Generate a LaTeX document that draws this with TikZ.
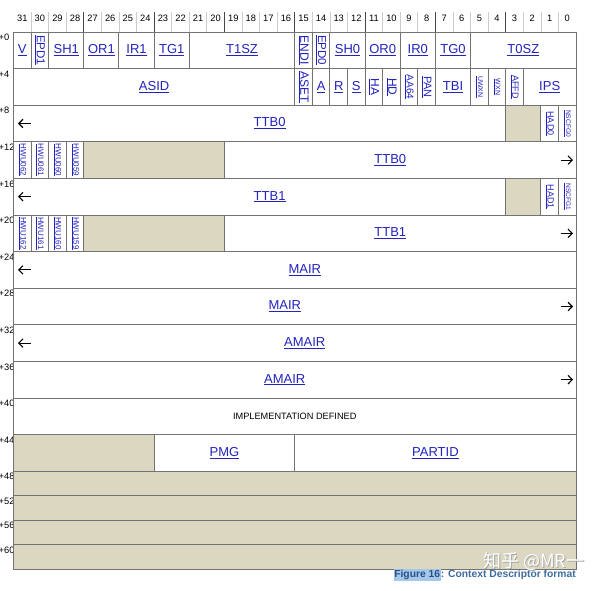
\documentclass[tikz,border=0pt]{standalone}
\usepackage{fontspec}
\usetikzlibrary{arrows.meta}
\setmainfont{Liberation Sans}
\newfontfamily\cjkfont{Noto Sans CJK SC}
\definecolor{linkc}{RGB}{35,35,190}
\definecolor{shadec}{RGB}{219,215,193}
\definecolor{gridc}{RGB}{115,115,115}
\definecolor{sepl}{RGB}{205,205,205}
\definecolor{sepd}{RGB}{70,70,70}
\definecolor{capc}{RGB}{62,108,160}
\definecolor{capd}{RGB}{40,80,140}
\definecolor{caphl}{RGB}{165,200,232}
\setlength{\fboxsep}{0.8pt}
\newcommand\fs[1]{\fontsize{#1}{#1}\selectfont}
\newcommand\lk[1]{\underline{#1}}
\newcommand\fld[7]{%
  \pgfmathsetmacro\fXa{13.5+(31-#2)*17.58}%
  \pgfmathsetmacro\fXb{13.5+(32-#3)*17.58}%
  \pgfmathsetmacro\fYm{(#4+#5)/2}%
  \draw[cellb] (\fXa,#4) rectangle (\fXb,#5);%
  \node[#6] (#1) at ({(\fXa+\fXb)/2},\fYm) {#7};}
\newcommand\shd[4]{%
  \pgfmathsetmacro\fXa{13.5+(31-#1)*17.58}%
  \pgfmathsetmacro\fXb{13.5+(32-#2)*17.58}%
  \draw[shadecell] (\fXa,#3) rectangle (\fXb,#4);}
% left / right continuation arrows
\newcommand\arrL[2]{%
  \coordinate (#1s) at (30.5,#2);\coordinate (#1e) at (18,#2);%
  \draw[arrline] (#1s) -- (#1e);}
\newcommand\arrR[2]{%
  \coordinate (#1s) at (560.5,#2);\coordinate (#1e) at (573,#2);%
  \draw[arrline] (#1s) -- (#1e);}
\tikzset{
  cellb/.style={draw=gridc, line width=1pt},
  shadecell/.style={fill=shadec, draw=gridc, line width=1pt},
  lab/.style={text=linkc, inner sep=0, font=\fs{13}},
  vlab/.style={text=linkc, inner sep=0, rotate=-90, font=\fs{#1}},
  arrline/.style={draw=black, line width=1.1pt, -{Straight Barb[length=4.2pt,width=8.5pt,line width=1.1pt]}},
  bitnum/.style={inner sep=0, font=\fs{9.3}, text=black},
  rowlab/.style={inner sep=0, font=\fs{9.3}, text=black, anchor=west},
}
\begin{document}
\begin{tikzpicture}[x=1pt,y=-1pt]
\useasboundingbox (0,0) rectangle (600,590);
\fill[white] (0,0) rectangle (600,590);
% header bit numbers
\foreach \b in {0,...,31} {
  \node[bitnum] (bit\b) at ({13.5+(31.5-\b)*17.58},18.5) {\b};
}
\foreach \k in {1,...,31} {
  \pgfmathsetmacro\kk{mod(\k,4)}
  \ifdim\kk pt=0pt
    \draw[sepd, line width=0.8pt] ({13.5+\k*17.58},12) -- ({13.5+\k*17.58},32);
  \else
    \draw[sepl, line width=0.8pt] ({13.5+\k*17.58},12) -- ({13.5+\k*17.58},32);
  \fi
}
% row offset labels
\foreach \o/\t in {0/32,4/68.6,8/105.2,12/141.8,16/178.4,20/215,24/251.6,28/288.2,32/324.8,36/361.4,40/398,44/434.6,48/471.2,52/495.65,56/520.1,60/544.55} {
  \node[rowlab] (off\o) at (-1.5,\t+5.5) {+\o};
}
% +0
\fld{V}{31}{31}{32}{68.6}{lab}{\lk{V}}
\fld{EPDone}{30}{30}{32}{68.6}{vlab=11.5}{\lk{EPD1}}
\fld{SHone}{29}{28}{32}{68.6}{lab}{\lk{SH1}}
\fld{ORone}{27}{26}{32}{68.6}{lab}{\lk{OR1}}
\fld{IRone}{25}{24}{32}{68.6}{lab}{\lk{IR1}}
\fld{TGone}{23}{22}{32}{68.6}{lab}{\lk{TG1}}
\fld{TSZone}{21}{16}{32}{68.6}{lab}{\lk{T1SZ}}
\fld{ENDI}{15}{15}{32}{68.6}{vlab=12}{\lk{ENDI}}
\fld{EPDzero}{14}{14}{32}{68.6}{vlab=11.5}{\lk{EPD0}}
\fld{SHzero}{13}{12}{32}{68.6}{lab}{\lk{SH0}}
\fld{ORzero}{11}{10}{32}{68.6}{lab}{\lk{OR0}}
\fld{IRzero}{9}{8}{32}{68.6}{lab}{\lk{IR0}}
\fld{TGzero}{7}{6}{32}{68.6}{lab}{\lk{TG0}}
\fld{TSZzero}{5}{0}{32}{68.6}{lab}{\lk{T0SZ}}
% +4
\fld{ASID}{31}{16}{68.6}{105.2}{lab}{\lk{ASID}}
\fld{ASET}{15}{15}{68.6}{105.2}{vlab=12}{\lk{ASET}}
\fld{A}{14}{14}{68.6}{105.2}{lab}{\lk{A}}
\fld{R}{13}{13}{68.6}{105.2}{lab}{\lk{R}}
\fld{S}{12}{12}{68.6}{105.2}{lab}{\lk{S}}
\fld{HA}{11}{11}{68.6}{105.2}{vlab=12}{\lk{HA}}
\fld{HD}{10}{10}{68.6}{105.2}{vlab=12}{\lk{HD}}
\fld{AAsixfour}{9}{9}{68.6}{105.2}{vlab=10}{\lk{AA64}}
\fld{PAN}{8}{8}{68.6}{105.2}{vlab=11}{\lk{PAN}}
\fld{TBI}{7}{6}{68.6}{105.2}{lab}{\lk{TBI}}
\fld{UWXN}{5}{5}{68.6}{105.2}{vlab=7}{\lk{UWXN}}
\fld{WXN}{4}{4}{68.6}{105.2}{vlab=7}{\lk{WXN}}
\fld{AFFD}{3}{3}{68.6}{105.2}{vlab=9}{\lk{AFFD}}
\fld{IPS}{2}{0}{68.6}{105.2}{lab}{\lk{IPS}}
% +8
\fld{TTBzeroLo}{31}{4}{105.2}{141.8}{lab,xshift=10pt}{\lk{TTB0}}
\shd{3}{2}{105.2}{141.8}
\fld{HADzero}{1}{1}{105.2}{141.8}{vlab=9}{\lk{HAD0}}
\fld{NSCFGzero}{0}{0}{105.2}{141.8}{vlab=6.6}{\lk{NSCFG0}}
\arrL{arrA}{123.5}
% +12
\fld{HWUzsixtwo}{31}{31}{141.8}{178.4}{vlab=8}{\lk{HWU062}}
\fld{HWUzsixone}{30}{30}{141.8}{178.4}{vlab=8}{\lk{HWU061}}
\fld{HWUzsixzero}{29}{29}{141.8}{178.4}{vlab=8}{\lk{HWU060}}
\fld{HWUzfivenine}{28}{28}{141.8}{178.4}{vlab=8}{\lk{HWU059}}
\shd{27}{20}{141.8}{178.4}
\fld{TTBzeroHi}{19}{0}{141.8}{178.4}{lab,xshift=-10pt}{\lk{TTB0}}
\arrR{arrB}{160.1}
% +16
\fld{TTBoneLo}{31}{4}{178.4}{215}{lab,xshift=10pt}{\lk{TTB1}}
\shd{3}{2}{178.4}{215}
\fld{HADone}{1}{1}{178.4}{215}{vlab=9}{\lk{HAD1}}
\fld{NSCFGone}{0}{0}{178.4}{215}{vlab=6.6}{\lk{NSCFG1}}
\arrL{arrC}{196.7}
% +20
\fld{HWUosixtwo}{31}{31}{215}{251.6}{vlab=8}{\lk{HWU162}}
\fld{HWUosixone}{30}{30}{215}{251.6}{vlab=8}{\lk{HWU161}}
\fld{HWUosixzero}{29}{29}{215}{251.6}{vlab=8}{\lk{HWU160}}
\fld{HWUofivenine}{28}{28}{215}{251.6}{vlab=8}{\lk{HWU159}}
\shd{27}{20}{215}{251.6}
\fld{TTBoneHi}{19}{0}{215}{251.6}{lab,xshift=-10pt}{\lk{TTB1}}
\arrR{arrD}{233.3}
% +24 .. +36
\fld{MAIRlo}{31}{0}{251.6}{288.2}{lab,xshift=10pt}{\lk{MAIR}}
\arrL{arrE}{269.9}
\fld{MAIRhi}{31}{0}{288.2}{324.8}{lab,xshift=-10pt}{\lk{MAIR}}
\arrR{arrF}{306.5}
\fld{AMAIRlo}{31}{0}{324.8}{361.4}{lab,xshift=10pt}{\lk{AMAIR}}
\arrL{arrG}{343.1}
\fld{AMAIRhi}{31}{0}{361.4}{398}{lab,xshift=-10pt}{\lk{AMAIR}}
\arrR{arrH}{379.7}
% +40
\fld{IMPDEF}{31}{0}{398}{434.6}{inner sep=0,font=\fs{9.2},text=black}{IMPLEMENTATION DEFINED}
% +44
\shd{31}{24}{434.6}{471.2}
\fld{PMG}{23}{16}{434.6}{471.2}{lab}{\lk{PMG}}
\fld{PARTID}{15}{0}{434.6}{471.2}{lab}{\lk{PARTID}}
% +48 .. +60
\shd{31}{0}{471.2}{495.65}
\shd{31}{0}{495.65}{520.1}
\shd{31}{0}{520.1}{544.55}
\shd{31}{0}{544.55}{569}
% watermark
\node[font=\cjkfont\fs{18}, text=gray!70, inner sep=0] (wmshadow) at (534.6,562.2) {知乎 @MR一};
\node[font=\cjkfont\fs{18}, text=white, inner sep=0] (wm) at (533.8,561.4) {知乎 @MR一};
% caption
\node[anchor=east, inner sep=0, font=\fs{10.3}\bfseries, text=capc] (cap) at (576,575) {\colorbox{caphl}{\textcolor{capd}{Figure 16}}: Context Descriptor format};
\end{tikzpicture}
\end{document}
